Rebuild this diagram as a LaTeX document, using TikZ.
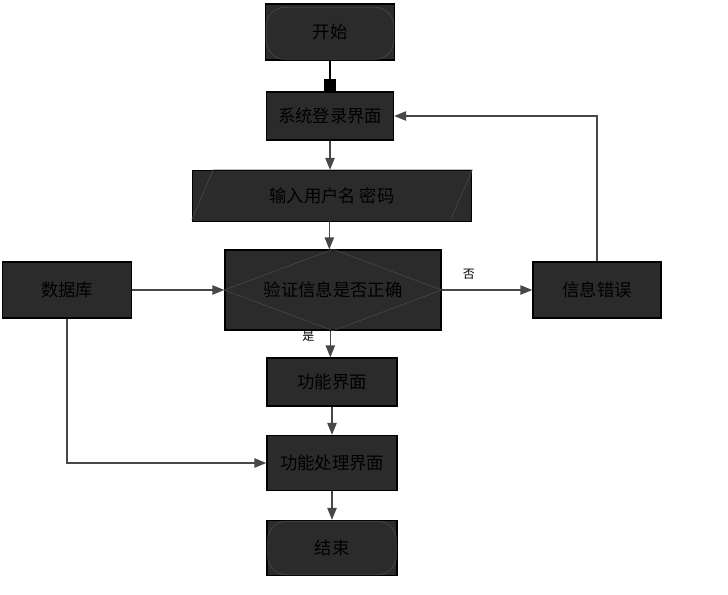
\documentclass[tikz,border=0pt]{standalone}
\usepackage{fontspec}
\setmainfont{Noto Sans CJK SC}
\usetikzlibrary{arrows.meta}
\definecolor{boxfill}{HTML}{2B2B2B}
\definecolor{innerline}{HTML}{474747}
\definecolor{linkgray}{HTML}{474747}
\tikzset{
    box/.style={draw=black, line width=1pt, fill=boxfill, text=black, inner sep=0pt,
        font=\fontsize{13}{15}\selectfont},
    inner/.style={draw=innerline, line width=0.5pt},
    link/.style={draw=linkgray, line width=1.1pt, -{Triangle[length=9pt,width=7pt]}},
    tag/.style={font=\fontsize{9}{10}\selectfont}
}
\begin{document}
\begin{tikzpicture}[x=0.75pt,y=-0.75pt]
            \useasboundingbox (0,0) rectangle (728,594);
            % boxes
            \node[box, minimum width=96.75pt, minimum height=42pt] (start) at (330,32) {};
            \node[box, minimum width=95.25pt, minimum height=36pt] (login) at (330,116) {系统登录界面};
            \node[box, minimum width=209.25pt, minimum height=38.25pt] (input) at (332,196) {输入用户名 密码};
            \node[box, minimum width=162pt, minimum height=60pt] (check) at (333,290) {};
            \node[box, minimum width=96.75pt, minimum height=42pt] (db) at (67,290) {数据库};
            \node[box, minimum width=96pt, minimum height=42pt] (err) at (597,290) {信息错误};
            \node[box, minimum width=97.5pt, minimum height=36pt] (func) at (332,382) {功能界面};
            \node[box, minimum width=97.5pt, minimum height=41.25pt] (proc) at (332,463) {功能处理界面};
            \node[box, minimum width=97.5pt, minimum height=41.25pt] (end) at (332,548) {};
            % faint outlines inside
            \draw[inner, rounded corners=14pt] ([xshift=1pt,yshift=1pt]start.south west) rectangle ([xshift=-1pt,yshift=-3pt]start.north east);
            \draw[inner, rounded corners=14pt] ([xshift=1pt,yshift=1pt]end.south west) rectangle ([xshift=-1pt,yshift=-1pt]end.north east);
            \draw[inner] ([yshift=2pt]input.south west) -- ([xshift=16pt]input.north west)
                -- (input.north east) -- ([xshift=-16pt,yshift=2pt]input.south east);
            \draw[inner] (check.north) -- (check.east) -- (check.south) -- (check.west) -- cycle;
            \node[font=\fontsize{13}{15}\selectfont] at (check) {验证信息是否正确};
            \node[font=\fontsize{13}{15}\selectfont] at (end) {结束};
            \node[font=\fontsize{13}{15}\selectfont] at (start) {开始};
            % connectors
            \draw[line width=2.2pt, -{Square[length=11pt,width=9pt]}] (start.south) -- ([yshift=-1.5pt]login.north);
            \draw[link] (login.south) -- (login.south |- input.north);
            \draw[link] ([xshift=-2pt]input.south) -- ([xshift=-2pt]input.south |- check.north);
            \draw[link] (db) -- (check);
            \draw[link] (check) -- (err) node[tag, pos=0.3, above=4pt] {否};
            \draw[link] (err.north) |- (login.east);
            \draw[link] ([xshift=-2pt]check.south) -- ([xshift=-2pt]check.south |- func.north) node[tag, pos=0.2, left=8pt] {是};
            \draw[link] (func) -- (proc);
            \draw[link] (db.south) |- (proc.west);
            \draw[link] (proc) -- (end);
        \end{tikzpicture}
\end{document}
